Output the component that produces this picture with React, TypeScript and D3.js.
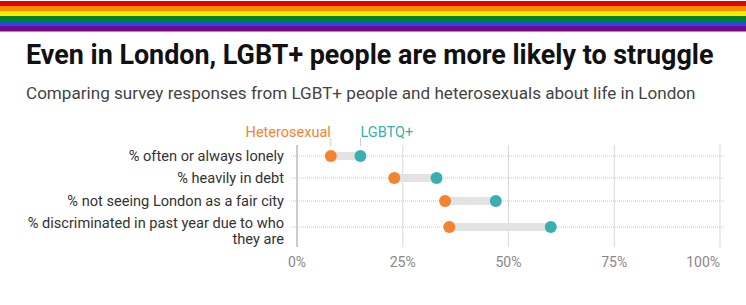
import { useEffect, useRef } from 'react'
import * as d3 from 'd3'

const categories = [
  ['% often or always lonely'],
  ['% heavily in debt'],
  ['% not seeing London as a fair city'],
  ['% discriminated in past year due to who', 'they are'],
]
const heterosexual = [8, 23, 35, 36]
const lgbtq = [15, 33, 47, 60]
const xTicks = [0, 25, 50, 75, 100]
const rainbow = ['#e40303', '#ff8c00', '#ffed00', '#008026', '#1f4fe0', '#750787']

const width = 746
const height = 305

export default function App() {
  const svgRef = useRef<SVGSVGElement>(null)

  useEffect(() => {
    if (!svgRef.current) return
    const svg = d3.select(svgRef.current)
    svg.selectAll('*').remove()

    // Pride stripes across the top
    const stripe = d3.scaleBand<number>().domain(d3.range(rainbow.length)).range([1, 31])
    svg.selectAll('rect.stripe')
      .data(rainbow)
      .enter()
      .append('rect')
      .attr('x', 0)
      .attr('y', (_, i) => stripe(i) || 0)
      .attr('width', width)
      .attr('height', stripe.bandwidth() + 0.5)
      .attr('fill', d => d)

    svg.append('text')
      .attr('x', 26)
      .attr('y', 64)
      .attr('font-family', 'Roboto')
      .attr('font-weight', 700)
      .attr('font-size', 26.9)
      .attr('fill', '#111')
      .text('Even in London, LGBT+ people are more likely to struggle')

    svg.append('text')
      .attr('x', 26)
      .attr('y', 99)
      .attr('font-family', 'Roboto')
      .attr('font-size', 17.1)
      .attr('fill', '#444')
      .text('Comparing survey responses from LGBT+ people and heterosexuals about life in London')

    const x = d3.scaleLinear().domain([0, 100]).range([297, 720])
    const rowY = [156, 178, 201, 227]

    // Vertical gridlines
    svg.selectAll('line.grid')
      .data(xTicks)
      .enter()
      .append('line')
      .attr('x1', d => x(d))
      .attr('x2', d => x(d))
      .attr('y1', 145)
      .attr('y2', 247)
      .attr('stroke', d => (d === 0 ? '#999' : '#d9d9d9'))
      .attr('stroke-width', 1)

    svg.selectAll('text.tick')
      .data(xTicks)
      .enter()
      .append('text')
      .attr('x', d => x(d))
      .attr('y', 267)
      .attr('text-anchor', d => (d === 100 ? 'end' : 'middle'))
      .attr('font-family', 'Roboto')
      .attr('font-size', 14)
      .attr('fill', '#888')
      .text(d => `${d}%`)

    // Dotted row guides
    svg.selectAll('line.row')
      .data(rowY)
      .enter()
      .append('line')
      .attr('x1', 291)
      .attr('x2', 725)
      .attr('y1', d => d)
      .attr('y2', d => d)
      .attr('stroke', '#c8c8c8')
      .attr('stroke-width', 1)
      .attr('stroke-dasharray', '1,1')

    // Category labels
    categories.forEach((lines, i) => {
      const t = svg.append('text')
        .attr('x', 284)
        .attr('y', rowY[i] + 5)
        .attr('text-anchor', 'end')
        .attr('font-family', 'Roboto')
        .attr('font-size', 14.6)
        .attr('fill', '#333')
      lines.forEach((l, j) => {
        t.append('tspan').attr('x', 284).attr('dy', j === 0 ? (lines.length > 1 ? -4 : 0) : 16).text(l)
      })
    })

    // Connecting bars
    svg.selectAll('line.bar')
      .data(heterosexual)
      .enter()
      .append('line')
      .attr('x1', d => x(d))
      .attr('x2', (_, i) => x(lgbtq[i]))
      .attr('y1', (_, i) => rowY[i])
      .attr('y2', (_, i) => rowY[i])
      .attr('stroke', '#e3e3e3')
      .attr('stroke-width', 8)

    svg.selectAll('circle.het')
      .data(heterosexual)
      .enter()
      .append('circle')
      .attr('cx', d => x(d))
      .attr('cy', (_, i) => rowY[i])
      .attr('r', 6)
      .attr('fill', '#f5822f')

    svg.selectAll('circle.lgb')
      .data(lgbtq)
      .enter()
      .append('circle')
      .attr('cx', d => x(d))
      .attr('cy', (_, i) => rowY[i])
      .attr('r', 6)
      .attr('fill', '#3aafb0')

    // Series labels above the first row
    const legend = [
      { v: heterosexual[0], label: 'Heterosexual', color: '#f5822f', anchor: 'end' },
      { v: lgbtq[0], label: 'LGBTQ+', color: '#3aafb0', anchor: 'start' },
    ]
    legend.forEach(l => {
      svg.append('line')
        .attr('x1', x(l.v))
        .attr('x2', x(l.v))
        .attr('y1', 138)
        .attr('y2', 146)
        .attr('stroke', '#ccc')
        .attr('stroke-width', 1)
      svg.append('text')
        .attr('x', x(l.v))
        .attr('y', 136.5)
        .attr('text-anchor', l.anchor)
        .attr('font-family', 'Roboto')
        .attr('font-size', 14.5)
        .attr('fill', l.color)
        .text(l.label)
    })
  }, [])

  return (
    <svg
      ref={svgRef}
      width={width}
      height={height}
      style={{ position: 'absolute', left: 0, top: 0, background: '#fff' }}
    />
  )
}
